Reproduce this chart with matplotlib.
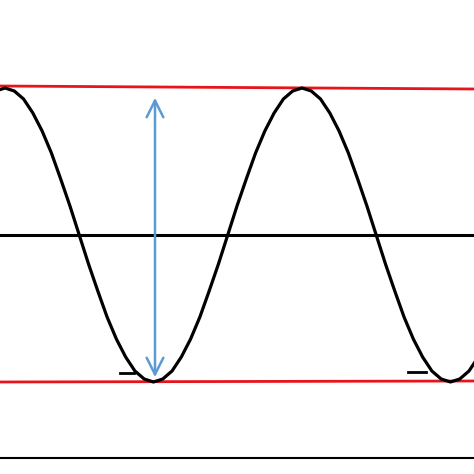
import matplotlib
matplotlib.use("Agg")
import matplotlib.pyplot as plt

# wave points (pixel coordinates)
wave_x = [-13.56, -4.28, 5, 14.28, 23.56, 32.84, 42.12, 51.4, 60.68, 69.96, 79.24, 88.52, 97.8,
          107.08, 116.36, 125.64, 134.92, 144.2, 153.48, 162.76, 172.04, 181.32, 190.6, 199.88,
          209.16, 218.44, 227.72, 237.0, 246.28, 255.56, 264.84, 274.12, 283.4, 292.68, 301.96,
          311.24, 320.52, 329.8, 339.08, 348.36, 357.64, 366.92, 376.2, 385.48, 394.76, 404.04,
          413.32, 422.6, 431.88, 441.16, 450.44, 459.72, 469.0, 478.28, 487.56]
wave_y = [99, 91,
          88, 91, 99, 113, 131, 153, 179, 206, 235, 264, 291, 317, 339, 357, 371, 379, 382,
          379, 371, 357, 339, 317, 291, 264, 235, 206, 179, 153, 131, 113, 99, 91, 88,
          91, 99, 113, 131, 153, 179, 206, 235, 264, 291, 317, 339, 357, 371, 379, 382,
          379, 371, 357, 339]
red_top = [86, 89]
red_bottom = [382, 381]
mid_y = 235
base_y = 458
arrow_x = 155
arrow_y = [95, 380]
dashes = [([120, 134], 373), ([408, 426], 372)]

fig = plt.figure(figsize=(4.74, 4.74), dpi=100)
ax = fig.add_axes([0, 0, 1, 1])
ax.set_xlim(0, 474)
ax.set_ylim(474, 0)
ax.axis('off')

ax.plot([0, 474], red_top, color='#e8141c', lw=2)
ax.plot([0, 474], red_bottom, color='#e8141c', lw=2)
ax.plot([0, 474], [mid_y, mid_y], color='black', lw=2.2)
ax.plot([0, 474], [base_y, base_y], color='black', lw=1.5)
ax.plot(wave_x, wave_y, color='black', lw=2.3, solid_joinstyle='round')
for xs, y in dashes:
    ax.plot(xs, [y, y], color='black', lw=2)
ax.annotate('', xy=(arrow_x, arrow_y[0]), xytext=(arrow_x, arrow_y[1]),
            arrowprops=dict(arrowstyle='<->,head_length=1.2,head_width=0.6',
                            color='#5b9bd5', lw=1.8))
fig.savefig('out.png', dpi=100)
